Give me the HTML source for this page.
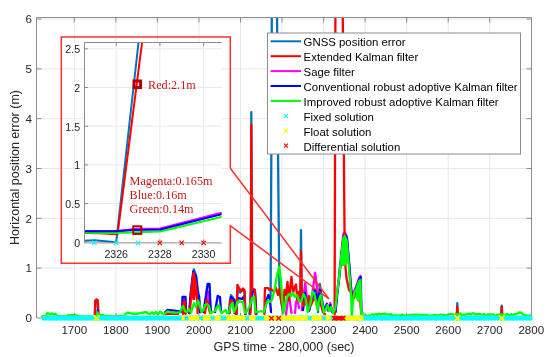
<!DOCTYPE html><html><head><meta charset="utf-8"><title>Horizontal position error</title><style>html,body{margin:0;padding:0;background:#fff;width:550px;height:357px;overflow:hidden}svg{display:block}text{font-family:"Liberation Sans",Arial,sans-serif;fill:#262626}.sf{font-family:"Liberation Serif","Times New Roman",serif;fill:#C41A1A}</style></head><body>
<svg width="550" height="357" viewBox="0 0 550 357">
<rect x="0" y="0" width="550" height="357" fill="#fff"/>
<path d="M74.34,17.5V318.0M115.88,17.5V318.0M157.42,17.5V318.0M198.96,17.5V318.0M240.50,17.5V318.0M282.04,17.5V318.0M323.58,17.5V318.0M365.12,17.5V318.0M406.66,17.5V318.0M448.20,17.5V318.0M489.74,17.5V318.0M36.5,268.10H531.5M36.5,218.30H531.5M36.5,168.50H531.5M36.5,118.70H531.5M36.5,68.90H531.5M36.5,19.10H531.5" stroke="#e8e8e8" stroke-width="1" fill="none"/>
<defs><clipPath id="mclip"><rect x="36.5" y="17.5" width="495.0" height="300.5"/></clipPath></defs>
<g clip-path="url(#mclip)">
<polyline points="94.8,316.0 95.5,301.0 97.7,301.0 98.4,316.0" fill="none" stroke="#0072BD" stroke-width="2.3" stroke-linejoin="round" stroke-linecap="round" />
<polyline points="189.3,313.0 190.8,295.0 193.8,269.5 196.3,276.0 197.8,290.0 199.0,297.0 200.0,312.0" fill="none" stroke="#0072BD" stroke-width="2.3" stroke-linejoin="round" stroke-linecap="round" />
<polyline points="228.8,313.0 230.0,300.0 231.0,295.2 232.5,297.0 234.0,300.0 235.0,313.0" fill="none" stroke="#0072BD" stroke-width="2.3" stroke-linejoin="round" stroke-linecap="round" />
<polyline points="236.3,314.0 237.5,293.0 238.5,291.0 240.0,292.5 243.0,290.0 244.8,292.0 245.3,314.0" fill="none" stroke="#0072BD" stroke-width="2.3" stroke-linejoin="round" stroke-linecap="round" />
<polyline points="249.6,314.0 250.8,290.0 251.3,112.2 251.8,289.0 255.0,290.0 256.3,314.0" fill="none" stroke="#0072BD" stroke-width="2.3" stroke-linejoin="round" stroke-linecap="round" />
<polyline points="269.5,302.0 270.6,296.0 271.3,160.0 271.8,10.0 277.0,10.0 278.2,170.0 279.3,285.0 281.0,300.0 283.0,313.0" fill="none" stroke="#0072BD" stroke-width="2.3" stroke-linejoin="round" stroke-linecap="round" />
<polyline points="300.4,300.0 301.0,230.1 301.6,300.0" fill="none" stroke="#0072BD" stroke-width="2.3" stroke-linejoin="round" stroke-linecap="round" />
<polyline points="318.0,312.0 319.8,284.0 322.0,300.0 323.0,312.0" fill="none" stroke="#0072BD" stroke-width="2.3" stroke-linejoin="round" stroke-linecap="round" />
<polyline points="456.9,316.0 457.3,303.2 457.7,316.0" fill="none" stroke="#0072BD" stroke-width="2.3" stroke-linejoin="round" stroke-linecap="round" />
<polyline points="501.3,316.0 501.7,305.7 502.1,316.0" fill="none" stroke="#0072BD" stroke-width="2.3" stroke-linejoin="round" stroke-linecap="round" />
<polyline points="183.0,313.0 183.5,300.0 185.0,300.0 185.5,313.0" fill="none" stroke="#FF00FF" stroke-width="2.3" stroke-linejoin="round" stroke-linecap="round" />
<polyline points="206.0,308.0 207.5,292.0 208.5,292.0 210.0,312.0" fill="none" stroke="#FF00FF" stroke-width="2.3" stroke-linejoin="round" stroke-linecap="round" />
<polyline points="286.0,315.0 287.5,302.0 289.0,296.0 290.5,306.0 291.5,313.0" fill="none" stroke="#FF00FF" stroke-width="2.3" stroke-linejoin="round" stroke-linecap="round" />
<polyline points="295.0,313.0 296.0,302.0 297.5,299.0 299.0,308.0" fill="none" stroke="#FF00FF" stroke-width="2.3" stroke-linejoin="round" stroke-linecap="round" />
<polyline points="302.0,310.0 303.5,296.0 305.3,283.0 307.0,300.0 309.0,310.0 311.5,300.0 313.5,285.0 315.1,272.6 317.0,288.0 318.5,302.0 320.0,300.0 322.0,305.0 324.0,310.0 326.0,306.0 327.0,303.6 328.5,310.0 330.4,303.0 332.0,312.0" fill="none" stroke="#FF00FF" stroke-width="2.3" stroke-linejoin="round" stroke-linecap="round" />
<polyline points="335.5,312.0 337.0,294.0 339.0,276.0 341.6,250.0 343.4,234.0 344.6,232.0 346.6,236.0 347.9,251.0 349.1,266.0 350.4,284.0 351.5,294.0 353.0,294.0 356.0,287.0 359.2,278.0 360.5,276.0 361.2,312.0" fill="none" stroke="#FF00FF" stroke-width="2.3" stroke-linejoin="round" stroke-linecap="round" />
<polyline points="165.0,312.5 167.3,310.0 172.0,310.3 176.0,310.8 180.0,311.3 182.0,312.0 182.5,297.0 185.5,297.0 186.0,312.0" fill="none" stroke="#0000FF" stroke-width="2.3" stroke-linejoin="round" stroke-linecap="round" />
<polyline points="189.2,313.0 190.6,294.0 193.3,271.5 195.8,276.0 197.8,294.0 199.0,296.0 200.0,312.0" fill="none" stroke="#0000FF" stroke-width="2.3" stroke-linejoin="round" stroke-linecap="round" />
<polyline points="203.5,312.0 206.0,295.0 207.6,284.0 209.5,284.0 210.2,300.0 211.0,312.0" fill="none" stroke="#0000FF" stroke-width="2.3" stroke-linejoin="round" stroke-linecap="round" />
<polyline points="215.0,312.0 217.7,296.0 220.0,297.0 221.0,312.0" fill="none" stroke="#0000FF" stroke-width="2.3" stroke-linejoin="round" stroke-linecap="round" />
<polyline points="229.5,313.0 231.0,297.0 233.5,299.0 234.5,300.0 235.3,313.0" fill="none" stroke="#0000FF" stroke-width="2.3" stroke-linejoin="round" stroke-linecap="round" />
<polyline points="236.3,314.0 237.5,297.8 242.0,299.0 244.3,296.0 245.3,314.0" fill="none" stroke="#0000FF" stroke-width="2.3" stroke-linejoin="round" stroke-linecap="round" />
<polyline points="249.8,314.0 252.3,292.0 254.5,290.0 255.5,300.0 256.2,314.0" fill="none" stroke="#0000FF" stroke-width="2.3" stroke-linejoin="round" stroke-linecap="round" />
<polyline points="264.5,312.0 266.5,300.0 268.5,295.0 270.0,300.0 271.0,312.0" fill="none" stroke="#0000FF" stroke-width="2.3" stroke-linejoin="round" stroke-linecap="round" />
<polyline points="303.0,310.0 305.0,293.0 307.0,305.0 309.0,311.0 313.0,296.0 315.0,290.0 317.0,300.0 320.0,290.0 322.0,301.0 324.5,311.0 326.8,304.0 328.5,311.0 330.5,305.0 332.0,312.0" fill="none" stroke="#0000FF" stroke-width="2.3" stroke-linejoin="round" stroke-linecap="round" />
<polyline points="335.5,312.0 337.2,295.0 339.2,278.0 341.8,252.0 343.6,236.0 344.8,234.0 347.0,238.0 348.3,253.0 349.6,268.0 350.9,286.0 352.0,296.0 353.5,297.0 356.0,289.0 359.4,279.0 360.7,277.0 361.4,312.0" fill="none" stroke="#0000FF" stroke-width="2.3" stroke-linejoin="round" stroke-linecap="round" />
<polyline points="165.0,314.0 168.0,313.8 175.0,313.8 178.0,314.0" fill="none" stroke="#FF0000" stroke-width="2.3" stroke-linejoin="round" stroke-linecap="round" />
<polyline points="94.8,316.0 95.3,300.5 96.6,299.2 97.9,300.5 98.4,316.0" fill="none" stroke="#FF0000" stroke-width="2.3" stroke-linejoin="round" stroke-linecap="round" />
<polyline points="183.0,314.0 183.5,302.0 185.0,302.0 185.5,314.0" fill="none" stroke="#FF0000" stroke-width="2.3" stroke-linejoin="round" stroke-linecap="round" />
<polyline points="189.8,313.0 191.2,292.0 193.5,273.0 195.8,283.0 197.0,295.0 197.6,313.0" fill="none" stroke="#FF0000" stroke-width="2.3" stroke-linejoin="round" stroke-linecap="round" />
<polyline points="205.0,313.0 206.5,300.0 207.5,301.0 208.5,306.0 210.0,313.0" fill="none" stroke="#FF0000" stroke-width="2.3" stroke-linejoin="round" stroke-linecap="round" />
<polyline points="229.3,313.0 230.2,302.0 231.2,300.0 233.2,303.0 234.2,313.0" fill="none" stroke="#FF0000" stroke-width="2.3" stroke-linejoin="round" stroke-linecap="round" />
<polyline points="236.5,314.0 237.4,284.8 239.0,288.0 241.0,291.0 243.0,288.5 244.5,290.0 245.1,314.0" fill="none" stroke="#FF0000" stroke-width="2.3" stroke-linejoin="round" stroke-linecap="round" />
<polyline points="250.4,314.0 250.9,289.0 251.3,124.8 252.2,288.8 254.8,289.5 255.6,314.0" fill="none" stroke="#FF0000" stroke-width="2.3" stroke-linejoin="round" stroke-linecap="round" />
<polyline points="264.4,314.0 264.9,288.2 268.4,288.2 269.3,290.0 271.0,289.0 272.0,290.0 274.0,292.0 276.0,288.0 278.0,295.0 279.5,289.0 281.0,300.0 283.0,310.0 284.5,290.0 286.0,295.0 287.5,282.0 289.0,300.0 290.5,285.0 291.5,277.0 293.0,293.0 294.5,287.0 296.0,284.5 297.3,300.0 298.8,292.0 300.2,299.0 301.0,251.4 301.9,298.0 303.0,306.0 305.0,300.0 307.0,306.0 309.0,296.0 311.0,305.0 313.0,300.0 315.0,298.0 317.0,305.0 319.0,300.0 321.0,305.0 323.0,312.0 325.0,314.0" fill="none" stroke="#FF0000" stroke-width="2.3" stroke-linejoin="round" stroke-linecap="round" />
<polyline points="334.6,316.0 335.4,10.0 342.7,10.0 344.2,195.0 344.8,260.0 346.5,278.0 349.0,290.0 350.8,292.0 352.5,296.0 354.0,298.0 356.0,294.0 358.0,298.0 360.0,296.0 361.2,314.0" fill="none" stroke="#FF0000" stroke-width="2.3" stroke-linejoin="round" stroke-linecap="round" />
<polyline points="456.7,316.0 457.3,306.6 457.9,316.0" fill="none" stroke="#FF0000" stroke-width="2.3" stroke-linejoin="round" stroke-linecap="round" />
<polyline points="501.1,316.0 501.7,307.0 502.3,316.0" fill="none" stroke="#FF0000" stroke-width="2.3" stroke-linejoin="round" stroke-linecap="round" />
<polyline points="96.6,316.0 97.7,309.5 98.3,316.0" fill="none" stroke="#0000FF" stroke-width="1.6" stroke-linejoin="round" stroke-linecap="round" />
<polygon points="340.5,262 342.5,244 344,236.5 346,238.5 347.5,250 348.5,262 345,266 342,266" fill="#00FF00"/>
<polygon points="355,297 356,293 359,284 360.4,282 360.8,300 358,302" fill="#00FF00"/>
<polygon points="190.9,292 192.2,276 193.6,272.8 195.3,276.5 196.6,292 195,300 192.5,300" fill="#FF0000"/>
<polyline points="42.0,316.4 43.3,316.2 44.6,316.6 45.9,316.2" fill="none" stroke="#00FF00" stroke-width="2.3" stroke-linejoin="round" stroke-linecap="round" />
<polyline points="46.0,316.0 47.0,313.3 49.0,313.5 51.0,314.2 52.5,313.3 54.0,314.5 55.5,313.8 57.0,316.5" fill="none" stroke="#00FF00" stroke-width="2.3" stroke-linejoin="round" stroke-linecap="round" />
<polyline points="57.0,316.6 58.3,316.5 59.6,316.2 60.9,316.6 62.2,316.2 63.5,316.5 64.8,316.3" fill="none" stroke="#00FF00" stroke-width="2.3" stroke-linejoin="round" stroke-linecap="round" />
<polyline points="66.0,316.5 68.0,315.2 71.0,315.5 74.0,315.0 77.0,315.4 79.0,316.5" fill="none" stroke="#00FF00" stroke-width="2.3" stroke-linejoin="round" stroke-linecap="round" />
<polyline points="79.0,316.3 80.3,316.5 81.6,316.9 82.9,316.3 84.2,316.4 85.5,316.7 86.8,317.0 88.1,316.7 89.4,316.5 90.7,317.0 92.0,316.2 93.3,316.9" fill="none" stroke="#00FF00" stroke-width="2.3" stroke-linejoin="round" stroke-linecap="round" />
<polyline points="94.0,316.5 96.8,316.0 97.6,312.5 98.4,316.0 99.5,316.5" fill="none" stroke="#00FF00" stroke-width="2.3" stroke-linejoin="round" stroke-linecap="round" />
<polyline points="99.0,316.0 101.0,314.8 103.0,315.2 105.0,316.5" fill="none" stroke="#00FF00" stroke-width="2.3" stroke-linejoin="round" stroke-linecap="round" />
<polyline points="105.0,316.0 106.3,315.9 107.6,315.8 108.9,316.1 110.2,316.7 111.5,315.9 112.8,316.4 114.1,316.5 115.4,316.1 116.7,316.4 118.0,315.8 119.3,315.8 120.6,315.9 121.9,316.5 123.2,316.2 124.5,316.1" fill="none" stroke="#00FF00" stroke-width="2.3" stroke-linejoin="round" stroke-linecap="round" />
<polyline points="125.0,314.0 128.0,312.5 131.0,313.5 136.0,313.8 140.0,313.2 143.0,312.6 146.0,312.0 148.0,313.5 150.0,314.0 152.0,312.3 154.0,314.2 156.0,312.0 158.0,314.5 160.0,311.5 163.5,314.4 168.0,311.3 172.0,312.5 176.0,312.6 180.0,312.4 181.8,308.0 183.0,306.0 185.0,311.0 187.0,312.0 189.0,309.0 191.0,312.5 194.0,303.0 196.0,307.0 198.0,300.5 200.0,306.0 201.5,312.0 203.5,310.0 205.0,305.0 207.0,304.0 209.0,306.0 210.5,313.0 213.0,312.0 215.0,311.0 217.0,307.0 219.0,305.0 220.5,311.0 222.0,313.0 225.5,310.0 227.0,313.0 229.0,312.0 231.0,305.0 232.5,303.0 234.0,312.0 236.0,308.0 237.5,302.0 240.0,301.5 243.0,302.5 245.0,313.0 247.0,311.0 249.8,306.0 252.0,298.0 254.0,297.0 255.5,312.0 258.0,312.0 261.0,311.0 264.0,312.0 266.0,305.0 268.0,300.0 270.0,302.0 272.0,300.0 274.5,290.0 277.0,275.0 279.3,266.8 280.8,280.0 282.3,300.0 283.5,313.0 285.0,306.0 287.0,297.0 289.0,294.0 291.0,296.0 293.0,293.0 295.0,297.0 297.0,295.0 299.0,301.0 301.0,302.0 303.5,294.0 305.5,298.0 307.8,312.0 310.0,305.0 312.7,292.0 314.3,293.0 316.0,302.0 317.5,310.0 319.0,300.0 320.8,295.0 322.5,305.0 324.0,312.0 326.0,309.0 327.5,305.0 329.0,311.0 331.0,307.0 333.0,313.0 335.3,309.0 337.0,294.0 339.0,278.0 341.6,253.0 343.4,238.0 344.6,236.0 346.6,240.0 347.9,254.0 349.1,269.0 350.4,286.0 351.3,300.0 351.8,318.0 352.6,305.0 354.2,293.0 356.0,290.0 359.2,281.0 360.5,280.0 361.2,314.0 363.0,313.0" fill="none" stroke="#00FF00" stroke-width="2.3" stroke-linejoin="round" stroke-linecap="round" />
<polyline points="363.0,315.7 364.3,315.6 365.6,315.4 366.9,315.9 368.2,315.8 369.5,315.3 370.8,315.7" fill="none" stroke="#00FF00" stroke-width="2.3" stroke-linejoin="round" stroke-linecap="round" />
<polyline points="372.0,314.2 373.3,314.8 374.6,314.6 375.9,313.9 377.2,315.0 378.5,313.6 379.8,314.1 381.1,314.6 382.4,313.6 383.7,314.2 385.0,313.5 386.3,314.5 387.6,314.6 388.9,314.3 390.2,314.8 391.5,313.9" fill="none" stroke="#00FF00" stroke-width="2.3" stroke-linejoin="round" stroke-linecap="round" />
<polyline points="392.0,315.5 393.3,315.3 394.6,315.3 395.9,315.1 397.2,315.7 398.5,315.8 399.8,315.2 401.1,315.4 402.4,314.6 403.7,315.5 405.0,315.4 406.3,315.9 407.6,315.7 408.9,314.9 410.2,315.0 411.5,315.4 412.8,314.5 414.1,315.1 415.4,314.7 416.7,314.7 418.0,314.6 419.3,315.6 420.6,314.7 421.9,314.8 423.2,315.0 424.5,315.7 425.8,314.6 427.1,315.1 428.4,315.3 429.7,315.7 431.0,315.6 432.3,315.7 433.6,314.9 434.9,315.1 436.2,315.0 437.5,315.7 438.8,315.8 440.1,314.7 441.4,314.7 442.7,314.8 444.0,314.8 445.3,315.2 446.6,315.3 447.9,314.9 449.2,314.5" fill="none" stroke="#00FF00" stroke-width="2.3" stroke-linejoin="round" stroke-linecap="round" />
<polyline points="450.0,314.1 451.3,314.0 452.6,314.3 453.9,315.0 455.2,314.5 456.5,314.2 457.8,314.4 459.1,314.5 460.4,313.4 461.7,314.9 463.0,314.7 464.3,314.9 465.6,314.7 466.9,314.0 468.2,314.0 469.5,313.5 470.8,314.4 472.1,313.4 473.4,313.4 474.7,313.7" fill="none" stroke="#00FF00" stroke-width="2.3" stroke-linejoin="round" stroke-linecap="round" />
<polyline points="475.0,314.4 476.3,314.6 477.6,314.2 478.9,314.1 480.2,314.3 481.5,314.3 482.8,314.7 484.1,314.1 485.4,315.5 486.7,315.1 488.0,314.3 489.3,314.5 490.6,314.7 491.9,314.7 493.2,314.3 494.5,315.5 495.8,315.7 497.1,314.8 498.4,314.9 499.7,314.2 501.0,314.3 502.3,314.6 503.6,314.5 504.9,315.4 506.2,314.4 507.5,314.1 508.8,315.6 510.1,314.9 511.4,314.3" fill="none" stroke="#00FF00" stroke-width="2.3" stroke-linejoin="round" stroke-linecap="round" />
<polyline points="512.0,314.8 515.0,314.2 517.5,313.5 519.5,312.3 521.5,312.6 523.5,315.0 527.0,315.6 531.0,315.6" fill="none" stroke="#00FF00" stroke-width="2.3" stroke-linejoin="round" stroke-linecap="round" />
</g>
<path d="M36.5,17.5H531.5V318.0H36.5Z" stroke="#8c8c8c" stroke-width="1" fill="none"/>
<path d="M74.3,318.0v-5M74.3,17.5v5M115.9,318.0v-5M115.9,17.5v5M157.4,318.0v-5M157.4,17.5v5M199.0,318.0v-5M199.0,17.5v5M240.5,318.0v-5M240.5,17.5v5M282.0,318.0v-5M282.0,17.5v5M323.6,318.0v-5M323.6,17.5v5M365.1,318.0v-5M365.1,17.5v5M406.7,318.0v-5M406.7,17.5v5M448.2,318.0v-5M448.2,17.5v5M489.7,318.0v-5M489.7,17.5v5M36.5,268.1h5M531.5,268.1h-5M36.5,218.3h5M531.5,218.3h-5M36.5,168.5h5M531.5,168.5h-5M36.5,118.7h5M531.5,118.7h-5M36.5,68.9h5M531.5,68.9h-5M36.5,19.1h5M531.5,19.1h-5" stroke="#8c8c8c" stroke-width="1" fill="none"/>
<rect x="42" y="315.6" width="490.5" height="5.0" fill="#00FFFF"/>
<rect x="181.5" y="315.6" width="182" height="5.0" fill="#FFFF00"/>
<path d="M184.8,316.5L188.2,319.9M184.8,319.9L188.2,316.5" stroke="#00FFFF" stroke-width="1.8" fill="none"/>
<path d="M199.4,316.5L202.8,319.9M199.4,319.9L202.8,316.5" stroke="#00FFFF" stroke-width="1.8" fill="none"/>
<path d="M211.0,316.5L214.4,319.9M211.0,319.9L214.4,316.5" stroke="#00FFFF" stroke-width="1.8" fill="none"/>
<path d="M221.1,316.5L224.5,319.9M221.1,319.9L224.5,316.5" stroke="#00FFFF" stroke-width="1.8" fill="none"/>
<path d="M222.9,316.5L226.3,319.9M222.9,319.9L226.3,316.5" stroke="#00FFFF" stroke-width="1.8" fill="none"/>
<path d="M245.4,316.5L248.8,319.9M245.4,319.9L248.8,316.5" stroke="#00FFFF" stroke-width="1.8" fill="none"/>
<path d="M255.7,316.5L259.1,319.9M255.7,319.9L259.1,316.5" stroke="#00FFFF" stroke-width="1.8" fill="none"/>
<path d="M258.1,316.5L261.5,319.9M258.1,319.9L261.5,316.5" stroke="#00FFFF" stroke-width="1.8" fill="none"/>
<path d="M260.5,316.5L263.9,319.9M260.5,319.9L263.9,316.5" stroke="#00FFFF" stroke-width="1.8" fill="none"/>
<path d="M307.9,316.5L311.3,319.9M307.9,319.9L311.3,316.5" stroke="#00FFFF" stroke-width="1.8" fill="none"/>
<path d="M322.2,316.5L325.6,319.9M322.2,319.9L325.6,316.5" stroke="#00FFFF" stroke-width="1.8" fill="none"/>
<path d="M331.0,316.5L334.4,319.9M331.0,319.9L334.4,316.5" stroke="#00FFFF" stroke-width="1.8" fill="none"/>
<path d="M93.6,315.2L99.6,321.2M93.6,321.2L99.6,315.2" stroke="#FFFF00" stroke-width="1.7" fill="none"/>
<path d="M454.3,315.2L460.3,321.2M454.3,321.2L460.3,315.2" stroke="#FFFF00" stroke-width="1.7" fill="none"/>
<path d="M498.7,315.2L504.7,321.2M498.7,321.2L504.7,315.2" stroke="#FFFF00" stroke-width="1.7" fill="none"/>
<rect x="333.5" y="316" width="10.3" height="4.4" fill="#FF0000"/>
<path d="M269.2,315.9L273.8,320.5M269.2,320.5L273.8,315.9" stroke="#FF0000" stroke-width="1.4" fill="none"/>
<path d="M276.4,315.9L281.0,320.5M276.4,320.5L281.0,315.9" stroke="#FF0000" stroke-width="1.4" fill="none"/>
<path d="M332.2,315.9L336.8,320.5M332.2,320.5L336.8,315.9" stroke="#FF0000" stroke-width="1.4" fill="none"/>
<path d="M340.9,315.9L345.5,320.5M340.9,320.5L345.5,315.9" stroke="#FF0000" stroke-width="1.4" fill="none"/>
<text x="74.3" y="334.2" font-size="11.6" text-anchor="middle">1700</text>
<text x="115.9" y="334.2" font-size="11.6" text-anchor="middle">1800</text>
<text x="157.4" y="334.2" font-size="11.6" text-anchor="middle">1900</text>
<text x="199.0" y="334.2" font-size="11.6" text-anchor="middle">2000</text>
<text x="240.5" y="334.2" font-size="11.6" text-anchor="middle">2100</text>
<text x="282.0" y="334.2" font-size="11.6" text-anchor="middle">2200</text>
<text x="323.6" y="334.2" font-size="11.6" text-anchor="middle">2300</text>
<text x="365.1" y="334.2" font-size="11.6" text-anchor="middle">2400</text>
<text x="406.7" y="334.2" font-size="11.6" text-anchor="middle">2500</text>
<text x="448.2" y="334.2" font-size="11.6" text-anchor="middle">2600</text>
<text x="489.7" y="334.2" font-size="11.6" text-anchor="middle">2700</text>
<text x="531.3" y="334.2" font-size="11.6" text-anchor="middle">2800</text>
<text x="32.0" y="322.1" font-size="11.6" text-anchor="end">0</text>
<text x="32.0" y="272.3" font-size="11.6" text-anchor="end">1</text>
<text x="32.0" y="222.5" font-size="11.6" text-anchor="end">2</text>
<text x="32.0" y="172.7" font-size="11.6" text-anchor="end">3</text>
<text x="32.0" y="122.9" font-size="11.6" text-anchor="end">4</text>
<text x="32.0" y="73.1" font-size="11.6" text-anchor="end">5</text>
<text x="32.0" y="23.3" font-size="11.6" text-anchor="end">6</text>
<text x="284" y="350.8" font-size="12.5" text-anchor="middle">GPS time - 280,000 (sec)</text>
<text transform="translate(18.9,167.5) rotate(-90)" font-size="12.5" text-anchor="middle">Horizontal position error (m)</text>
<rect x="267.5" y="33.0" width="253.0" height="121.0" fill="#fff" stroke="#8c8c8c" stroke-width="1"/>
<line x1="270.6" y1="41.3" x2="301" y2="41.3" stroke="#0072BD" stroke-width="2"/>
<text x="303.6" y="46.2" font-size="11.4" style="fill:#000">GNSS position error</text>
<line x1="270.6" y1="56.2" x2="301" y2="56.2" stroke="#FF0000" stroke-width="2"/>
<text x="303.6" y="61.1" font-size="11.4" style="fill:#000">Extended Kalman filter</text>
<line x1="270.6" y1="71.1" x2="301" y2="71.1" stroke="#FF00FF" stroke-width="2"/>
<text x="303.6" y="76.0" font-size="11.4" style="fill:#000">Sage filter</text>
<line x1="270.6" y1="86.0" x2="301" y2="86.0" stroke="#0000FF" stroke-width="2"/>
<text x="303.6" y="90.9" font-size="11.4" style="fill:#000">Conventional robust adoptive Kalman filter</text>
<line x1="270.6" y1="100.9" x2="301" y2="100.9" stroke="#00FF00" stroke-width="2"/>
<text x="303.6" y="105.8" font-size="11.4" style="fill:#000">Improved robust adoptive Kalman filter</text>
<path d="M284.0,113.8L288.0,117.8M284.0,117.8L288.0,113.8" stroke="#00FFFF" stroke-width="1.1" fill="none"/>
<text x="303.6" y="120.7" font-size="11.4" style="fill:#000">Fixed solution</text>
<path d="M284.0,128.7L288.0,132.7M284.0,132.7L288.0,128.7" stroke="#FFFF00" stroke-width="1.1" fill="none"/>
<text x="303.6" y="135.6" font-size="11.4" style="fill:#000">Float solution</text>
<path d="M284.0,143.6L288.0,147.6M284.0,147.6L288.0,143.6" stroke="#FF0000" stroke-width="1.1" fill="none"/>
<text x="303.6" y="150.5" font-size="11.4" style="fill:#000">Differential solution</text>
<path d="M230.3,168.2V37H61.3V263.3H230.3V225.7L329,299L230.3,168.2" fill="none" stroke="#FF3030" stroke-width="1.5" stroke-linejoin="miter"/>
<rect x="84.5" y="42.5" width="137.1" height="200.4" fill="#fff"/>
<path d="M116.20,42.5V242.9M159.90,42.5V242.9M203.60,42.5V242.9M84.5,203.60H221.6M84.5,164.90H221.6M84.5,126.20H221.6M84.5,87.50H221.6M84.5,48.80H221.6" stroke="#e8e8e8" stroke-width="1" fill="none"/>
<svg x="84.5" y="42.5" width="137.1" height="200.4" viewBox="84.5 42.5 137.1 200.4" overflow="hidden">
<polyline points="80.0,240.8 94.5,240.3 116.2,242.2 140.8,22.0" fill="none" stroke="#0072BD" stroke-width="2.0" stroke-linejoin="round" stroke-linecap="round" />
<polyline points="80.0,232.9 100.0,233.2 117.6,234.2 143.9,28.0" fill="none" stroke="#FF0000" stroke-width="2.0" stroke-linejoin="round" stroke-linecap="round" />
<polyline points="80.0,232.8 116.3,233.0 138.2,232.3 160.1,231.5 221.3,217.0 226.0,215.9" fill="none" stroke="#00FF00" stroke-width="2.0" stroke-linejoin="round" stroke-linecap="round" />
<polyline points="80.0,231.0 116.3,231.0 138.2,228.7 160.1,228.4 221.3,212.6 226.0,211.4" fill="none" stroke="#FF00FF" stroke-width="2.0" stroke-linejoin="round" stroke-linecap="round" />
<polyline points="80.0,231.3 116.3,231.3 132.9,230.0 160.1,229.5 221.3,214.3 226.0,213.1" fill="none" stroke="#0000FF" stroke-width="2.0" stroke-linejoin="round" stroke-linecap="round" />
</svg>
<path d="M221.6,42.5H84.5V242.9H221.6" stroke="#8c8c8c" stroke-width="1" fill="none"/>
<path d="M116.2,242.9v-3.5M116.2,42.5v3.5M159.9,242.9v-3.5M159.9,42.5v3.5M203.6,242.9v-3.5M203.6,42.5v3.5M84.5,203.6h3.5M84.5,164.9h3.5M84.5,126.2h3.5M84.5,87.5h3.5M84.5,48.8h3.5" stroke="#8c8c8c" stroke-width="1" fill="none"/>
<path d="M92.1,240.7L96.5,245.1M92.1,245.1L96.5,240.7" stroke="#00FFFF" stroke-width="1.1" fill="none"/>
<path d="M114.0,240.7L118.4,245.1M114.0,245.1L118.4,240.7" stroke="#00FFFF" stroke-width="1.1" fill="none"/>
<path d="M135.9,240.7L140.2,245.1M135.9,245.1L140.2,240.7" stroke="#00FFFF" stroke-width="1.1" fill="none"/>
<path d="M157.7,240.7L162.1,245.1M157.7,245.1L162.1,240.7" stroke="#FF0000" stroke-width="1.1" fill="none"/>
<path d="M179.6,240.7L183.9,245.1M179.6,245.1L183.9,240.7" stroke="#FF0000" stroke-width="1.1" fill="none"/>
<path d="M201.4,240.7L205.8,245.1M201.4,245.1L205.8,240.7" stroke="#FF0000" stroke-width="1.1" fill="none"/>
<text x="116.2" y="257.8" font-size="10.6" text-anchor="middle">2326</text>
<text x="159.9" y="257.8" font-size="10.6" text-anchor="middle">2328</text>
<text x="203.6" y="257.8" font-size="10.6" text-anchor="middle">2330</text>
<text x="80.1" y="247.0" font-size="10.6" text-anchor="end">0</text>
<text x="80.1" y="207.9" font-size="10.6" text-anchor="end">0.5</text>
<text x="80.1" y="169.2" font-size="10.6" text-anchor="end">1</text>
<text x="80.1" y="130.5" font-size="10.6" text-anchor="end">1.5</text>
<text x="80.1" y="91.8" font-size="10.6" text-anchor="end">2</text>
<text x="80.1" y="53.1" font-size="10.6" text-anchor="end">2.5</text>
<rect x="134.0" y="81.0" width="6.6" height="6.6" fill="none" stroke="#B00000" stroke-width="3"/>
<text class="sf" transform="translate(148,88.7)" font-size="12.2">Red:2.1m</text>
<rect x="133.3" y="226.3" width="8" height="7.6" fill="none" stroke="#B00000" stroke-width="2"/>
<text class="sf" transform="translate(129.6,184.5)" font-size="12.2">Magenta:0.165m</text>
<text class="sf" transform="translate(129.6,199)" font-size="12.2">Blue:0.16m</text>
<text class="sf" transform="translate(129.6,213.4)" font-size="12.2">Green:0.14m</text>
</svg></body></html>
